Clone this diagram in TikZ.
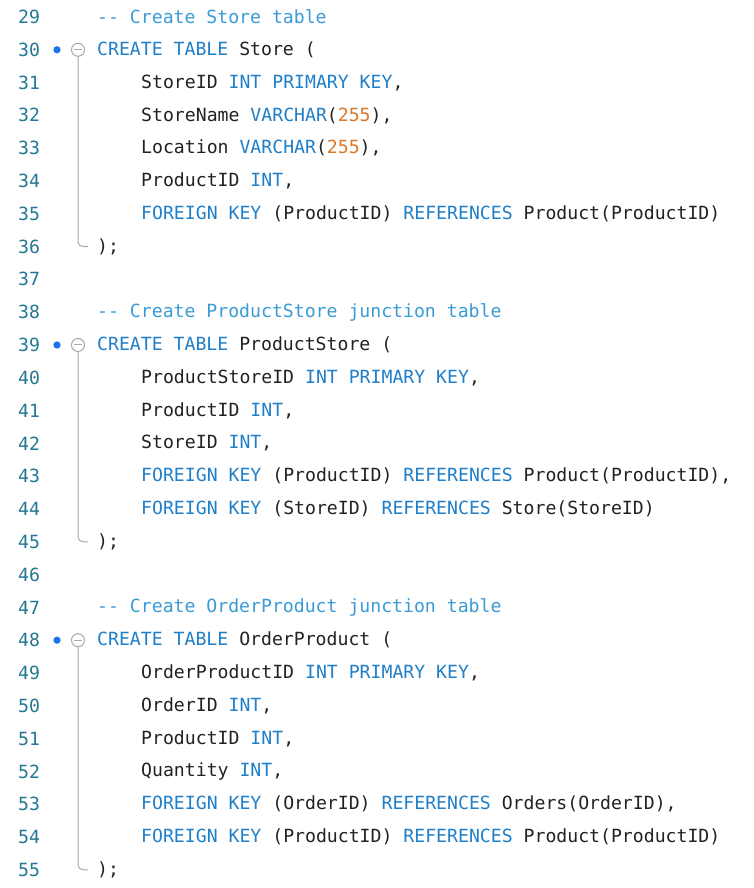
\documentclass[tikz,border=0pt]{standalone}
\usepackage{fontspec}
\setmonofont{DejaVu Sans Mono}
\definecolor{lnum}{HTML}{237893}
\definecolor{kwc}{HTML}{1F7FC8}
\definecolor{cmc}{HTML}{3A9BD6}
\definecolor{numc}{HTML}{D9792B}
\definecolor{txc}{HTML}{222222}
\definecolor{dotc}{HTML}{1A73E8}
\definecolor{foldc}{HTML}{A8A8A8}
\newcommand{\kw}[1]{\textcolor{kwc}{#1}}
\newcommand{\nmb}[1]{\textcolor{numc}{#1}}
\newcommand{\cm}[1]{\textcolor{cmc}{#1}}
\tikzset{
  code/.style={anchor=west,inner sep=0pt,font=\ttfamily\fontsize{18.15}{20}\selectfont,text=txc},
  lno/.style={anchor=west,inner sep=0pt,font=\ttfamily\fontsize{18.15}{20}\selectfont,text=lnum},
  fold/.style={draw=foldc,line width=1pt},
  bp/.style={fill=dotc,draw=none}
}
\newcommand{\Y}[1]{\fpeval{888-(17+32.8*(#1))}}
\begin{document}
\begin{tikzpicture}[x=1pt,y=1pt]
\useasboundingbox[fill=white] (0,0) rectangle (754,888);
% line numbers
\foreach \k [evaluate=\k as \n using int(29+\k)] in {0,...,26}{
  \node[lno] (ln\n) at (18,{888-(17+32.8*\k)}) {\n};
}
\def\xa{97}\def\xb{141}
\node[code] (c29) at (\xa,\Y{0}) {\cm{-- Create Store table}};
\node[code] (c30) at (\xa,\Y{1}) {\kw{CREATE TABLE} Store (};
\node[code] (c31) at (\xb,\Y{2}) {StoreID \kw{INT PRIMARY KEY},};
\node[code] (c32) at (\xb,\Y{3}) {StoreName \kw{VARCHAR}(\nmb{255}),};
\node[code] (c33) at (\xb,\Y{4}) {Location \kw{VARCHAR}(\nmb{255}),};
\node[code] (c34) at (\xb,\Y{5}) {ProductID \kw{INT},};
\node[code] (c35) at (\xb,\Y{6}) {\kw{FOREIGN KEY} (ProductID) \kw{REFERENCES} Product(ProductID)};
\node[code] (c36) at (\xa,\Y{7}) {);};
\node[code] (c38) at (\xa,\Y{9}) {\cm{-- Create ProductStore junction table}};
\node[code] (c39) at (\xa,\Y{10}) {\kw{CREATE TABLE} ProductStore (};
\node[code] (c40) at (\xb,\Y{11}) {ProductStoreID \kw{INT PRIMARY KEY},};
\node[code] (c41) at (\xb,\Y{12}) {ProductID \kw{INT},};
\node[code] (c42) at (\xb,\Y{13}) {StoreID \kw{INT},};
\node[code] (c43) at (\xb,\Y{14}) {\kw{FOREIGN KEY} (ProductID) \kw{REFERENCES} Product(ProductID),};
\node[code] (c44) at (\xb,\Y{15}) {\kw{FOREIGN KEY} (StoreID) \kw{REFERENCES} Store(StoreID)};
\node[code] (c45) at (\xa,\Y{16}) {);};
\node[code] (c47) at (\xa,\Y{18}) {\cm{-- Create OrderProduct junction table}};
\node[code] (c48) at (\xa,\Y{19}) {\kw{CREATE TABLE} OrderProduct (};
\node[code] (c49) at (\xb,\Y{20}) {OrderProductID \kw{INT PRIMARY KEY},};
\node[code] (c50) at (\xb,\Y{21}) {OrderID \kw{INT},};
\node[code] (c51) at (\xb,\Y{22}) {ProductID \kw{INT},};
\node[code] (c52) at (\xb,\Y{23}) {Quantity \kw{INT},};
\node[code] (c53) at (\xb,\Y{24}) {\kw{FOREIGN KEY} (OrderID) \kw{REFERENCES} Orders(OrderID),};
\node[code] (c54) at (\xb,\Y{25}) {\kw{FOREIGN KEY} (ProductID) \kw{REFERENCES} Product(ProductID)};
\node[code] (c55) at (\xa,\Y{26}) {);};
% gutter markers
\foreach \s/\e in {1/7,10/16,19/26}{
  \fill[bp] (57,\Y{\s}) circle (3.6);
  \draw[fold] (78,\Y{\s}) circle (6.5);
  \draw[fold] (74,\Y{\s}) -- (82,\Y{\s});
  \draw[fold] (78,{\Y{\s}-6.5}) -- (78,{\Y{\e}+5}) arc[start angle=180,end angle=270,radius=5] -- (88,{\Y{\e}});
}
\end{tikzpicture}
\end{document}
